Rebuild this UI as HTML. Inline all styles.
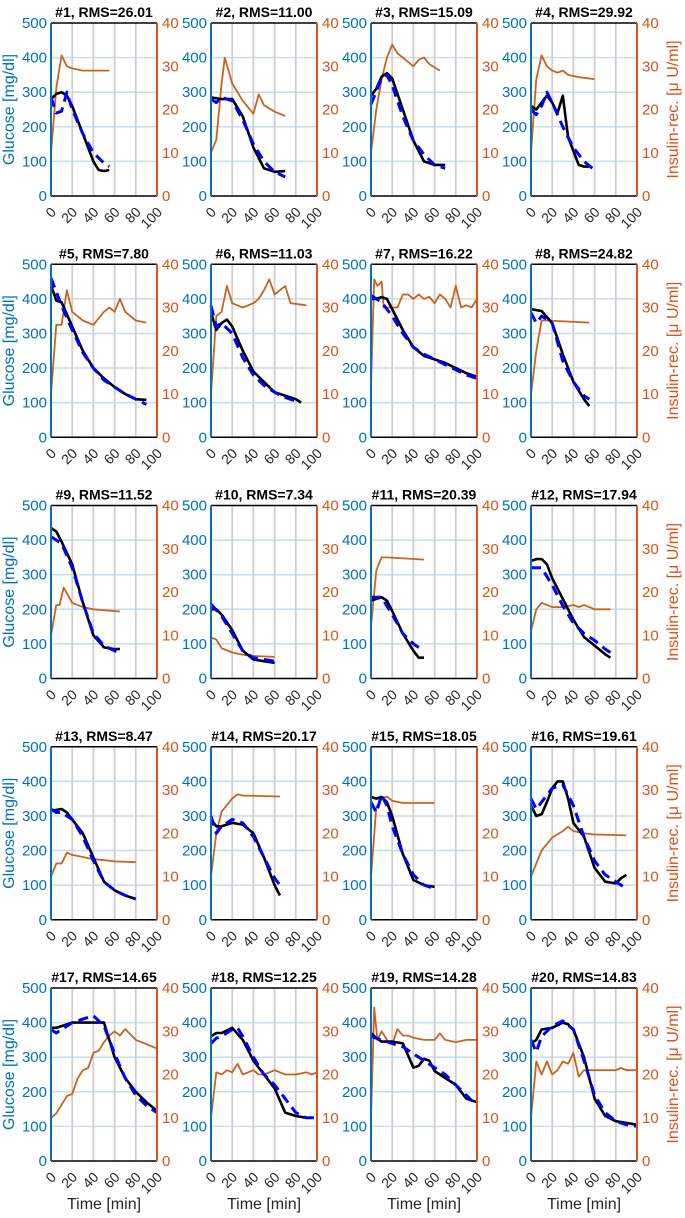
<!DOCTYPE html>
<html><head><meta charset="utf-8"><style>
body{margin:0;background:#fff}
svg{display:block;font-family:"Liberation Sans",Arial,sans-serif}
</style></head><body>
<svg id="fig" width="685" height="1218" viewBox="0 0 685 1218" xmlns="http://www.w3.org/2000/svg"></svg>
<script>
const titles=["#1, RMS=26.01","#2, RMS=11.00","#3, RMS=15.09","#4, RMS=29.92","#5, RMS=7.80","#6, RMS=11.03","#7, RMS=16.22","#8, RMS=24.82","#9, RMS=11.52","#10, RMS=7.34","#11, RMS=20.39","#12, RMS=17.94","#13, RMS=8.47","#14, RMS=20.17","#15, RMS=18.05","#16, RMS=19.61","#17, RMS=14.65","#18, RMS=12.25","#19, RMS=14.28","#20, RMS=14.83"];
const glucoseTicks=[0,100,200,300,400,500];
const insulinTicks=[0,10,20,30,40];
const timeTicks=[0,20,40,60,80,100];
const measured=[
[[0,280],[5,295],[10,300],[15,290],[20,260],[30,180],[40,100],[45,75],[50,72],[55,75]],
[[0,285],[10,280],[20,280],[30,230],[40,140],[50,80],[60,70],[70,72]],
[[0,290],[5,310],[10,345],[15,355],[20,340],[30,250],[40,160],[50,100],[60,90],[70,90]],
[[0,260],[5,250],[10,270],[15,290],[20,270],[25,240],[30,290],[35,170],[40,130],[45,90],[50,85],[55,85]],
[[0,440],[5,395],[10,390],[20,320],[30,250],[40,200],[50,170],[60,145],[70,125],[80,110],[90,108]],
[[0,360],[5,310],[10,330],[15,340],[20,320],[30,250],[40,190],[50,160],[60,130],[70,120],[80,110],[85,100]],
[[0,400],[5,400],[10,405],[15,400],[20,370],[30,310],[40,260],[50,235],[60,225],[70,215],[80,200],[90,185],[100,175]],
[[0,370],[10,365],[20,330],[30,240],[40,160],[50,110],[55,90]],
[[0,435],[5,425],[10,395],[20,330],[30,220],[40,125],[50,90],[60,85],[65,85]],
[[0,200],[5,200],[10,185],[20,140],[30,80],[40,55],[50,50],[60,45]],
[[0,225],[5,230],[10,235],[15,225],[20,195],[30,130],[40,80],[45,60],[50,60]],
[[0,340],[5,345],[10,345],[15,330],[20,290],[30,230],[40,170],[50,120],[60,95],[70,70],[75,60]],
[[0,315],[10,320],[15,310],[20,290],[30,250],[40,180],[50,110],[60,85],[70,70],[80,60]],
[[0,290],[5,270],[10,270],[20,280],[30,275],[40,250],[50,180],[60,100],[65,70]],
[[0,355],[5,350],[10,355],[15,340],[20,300],[30,190],[40,115],[50,100],[60,95]],
[[0,330],[5,300],[10,305],[15,340],[20,380],[25,400],[30,400],[35,350],[40,280],[50,240],[60,150],[70,110],[80,105],[85,120],[90,130]],
[[0,385],[5,385],[10,390],[20,400],[30,400],[40,400],[50,400],[55,350],[60,300],[70,240],[80,200],[90,170],[100,145]],
[[0,360],[5,370],[10,370],[20,385],[30,350],[40,290],[50,250],[60,210],[70,140],[80,130],[90,125]],
[[0,370],[5,355],[10,345],[20,345],[30,340],[40,270],[45,275],[50,295],[55,290],[60,260],[70,240],[80,220],[90,180],[100,170]],
[[0,340],[5,350],[10,380],[20,385],[30,400],[35,395],[40,380],[50,300],[60,180],[70,130],[80,115],[90,110],[100,105]]];
const model=[
[[0,285],[5,240],[10,245],[15,300],[20,250],[30,180],[40,125],[50,95],[55,85]],
[[0,280],[5,270],[10,285],[20,275],[30,220],[40,150],[50,100],[60,70],[70,55]],
[[0,265],[10,340],[15,350],[20,320],[30,230],[40,160],[50,120],[60,90],[70,80]],
[[0,250],[5,235],[10,260],[15,300],[20,270],[30,200],[40,140],[50,100],[60,75]],
[[0,460],[10,380],[20,310],[30,245],[40,200],[50,165],[60,145],[70,125],[80,110],[90,95]],
[[0,380],[5,320],[10,330],[20,300],[30,230],[40,180],[50,150],[60,130],[70,115],[80,105]],
[[0,410],[10,390],[20,350],[30,300],[40,260],[50,240],[60,225],[70,210],[80,195],[90,180],[100,170]],
[[0,360],[5,330],[10,350],[20,330],[30,220],[40,160],[50,120],[55,110]],
[[0,410],[10,390],[20,320],[30,220],[40,130],[50,95],[60,80],[65,75]],
[[0,215],[10,180],[20,130],[30,80],[40,60],[50,55],[60,50]],
[[0,235],[10,235],[20,185],[30,130],[40,100],[50,80]],
[[0,320],[10,320],[20,270],[30,210],[40,160],[50,130],[60,110],[70,85],[75,75]],
[[0,320],[5,310],[10,310],[20,290],[30,240],[40,170],[50,110],[60,85],[70,70],[80,60]],
[[0,300],[5,250],[10,270],[20,290],[30,280],[40,240],[50,180],[60,120],[65,100]],
[[0,340],[5,310],[10,360],[15,330],[20,270],[30,190],[40,130],[50,100],[60,90]],
[[0,350],[5,320],[10,340],[20,380],[30,390],[40,330],[50,240],[60,170],[70,130],[80,110],[90,90]],
[[0,380],[5,370],[10,380],[20,400],[30,410],[40,420],[50,390],[60,310],[70,240],[80,190],[90,160],[100,140]],
[[0,340],[5,355],[10,360],[20,380],[25,385],[30,360],[40,300],[50,250],[60,220],[70,180],[80,140],[90,125],[100,125]],
[[0,360],[10,350],[20,340],[30,330],[40,310],[50,290],[60,270],[70,250],[80,220],[90,190],[100,160]],
[[0,350],[5,315],[10,360],[20,390],[30,405],[40,380],[50,290],[60,190],[70,140],[80,115],[90,105],[100,100]]];
const insulin=[
[[0,10],[5,25],[10,32.5],[15,30],[20,29.5],[30,29],[55,29]],
[[0,10],[5,13],[10,26],[13,32],[20,26],[30,22],[40,19],[45,23.5],[50,21],[60,19.5],[70,18.5]],
[[0,10],[5,20],[10,27],[15,32],[20,35],[25,33],[30,32],[40,30],[45,31.5],[50,32],[55,30.5],[65,29]],
[[0,10],[5,27],[10,32.5],[15,30],[20,29],[25,28.5],[30,29],[35,28],[45,27.5],[60,27]],
[[0,10],[5,26],[10,26],[15,34],[20,29],[30,27],[40,26],[50,29],[55,30],[60,29],[65,32],[70,29],[80,27],[90,26.5]],
[[0,10],[5,28],[10,29],[15,35],[20,31],[30,30],[40,31],[45,32],[50,34],[55,36.5],[60,33],[70,35],[75,31],[90,30.5]],
[[0,12],[3,36.5],[6,35],[10,36],[12,30],[20,30],[25,30],[30,33],[35,33],[40,32],[45,33],[50,32],[55,32.5],[60,31],[65,33],[70,32],[75,30],[80,35],[85,30],[90,30.5],[95,30],[100,32]],
[[0,10],[5,20],[10,27],[15,27],[55,26.5]],
[[0,10],[5,17],[8,17],[12,21],[20,17.5],[30,16.5],[40,16],[65,15.5]],
[[0,9.5],[5,9],[10,7],[20,6],[30,5.5],[40,5.2],[60,5]],
[[0,12],[5,25],[10,28],[15,28],[50,27.5]],
[[0,11],[5,16],[10,17.5],[20,16.5],[30,16.5],[40,17],[45,16.5],[50,17],[55,16.5],[60,16],[75,16]],
[[0,10],[5,13],[10,13],[15,15.5],[20,15],[30,14.5],[40,14],[50,13.8],[60,13.5],[80,13.3]],
[[0,10],[5,20],[10,25],[20,28],[25,29],[30,28.7],[65,28.5]],
[[0,10],[5,26],[10,28],[15,28.5],[20,27.5],[30,27],[60,27]],
[[0,10],[5,13],[10,16],[20,19],[30,20.5],[35,21.5],[40,20.5],[50,20],[60,19.7],[90,19.5]],
[[0,10],[5,11],[10,13],[15,15],[20,15.5],[25,19],[30,21],[35,21.5],[40,25],[45,25.5],[50,27.5],[55,29],[60,30],[65,29],[70,30.5],[80,28],[90,27],[100,26]],
[[0,10],[5,20.5],[10,20],[15,21],[20,20.5],[25,22.5],[30,20],[35,20.5],[40,21],[45,20],[50,20],[60,21],[70,20],[80,20],[90,20.5],[95,20],[100,20.5]],
[[0,10],[3,35.5],[6,28],[10,30],[15,28],[20,27],[25,30.5],[30,29],[35,29],[40,28.5],[50,28],[60,28],[65,29.5],[70,28],[80,27.5],[90,28],[100,28]],
[[0,10],[5,23],[10,20],[15,23],[20,20],[25,21],[30,23],[35,22.5],[40,25],[45,19.5],[50,21],[60,21],[70,21],[80,21],[85,21.5],[90,21],[100,21]]];

const NS="http://www.w3.org/2000/svg";
const svg=document.getElementById('fig');
function mk(tag,attrs,parent,text){const e=document.createElementNS(NS,tag);for(const k in attrs)e.setAttribute(k,attrs[k]);if(text!==undefined)e.textContent=text;(parent||svg).appendChild(e);return e;}
const W=106,H=173,X0=51,DX=160,Y0=23,DY=241.25;
const BLUE="#0072BD",ORANGE="#D95319";
for(let p=0;p<20;p++){
  const r=Math.floor(p/4),c=p%4;
  const L=X0+DX*c,T=Y0+DY*r;
  const xs=t=>L+W*t/100, yg=g=>T+H*(1-g/500), yi=v=>T+H*(1-v/40);
  const g=mk('g',{});
  
  
  glucoseTicks.forEach(v=>{if(v>0&&v<500){const l=mk('line',{x1:L,x2:L+W,y1:yg(v),y2:yg(v),stroke:"#c9dcea","stroke-width":1.5},g);}});
  timeTicks.forEach(v=>{if(v>0&&v<100){const l=mk('line',{x1:xs(v),x2:xs(v),y1:T,y2:T+H,stroke:"#cfcfcf","stroke-width":1.8},g);}});
  const path=(arr,f)=>arr.map((d,i)=>(i?'L':'M')+xs(d[0]).toFixed(1)+','+f(d[1]).toFixed(1)).join('');
  const oi=mk('path',{d:path(insulin[p],yi),fill:"none",stroke:"#C8641E","stroke-width":1.8,"stroke-linejoin":"round"},g);
  
  const bm=mk('path',{d:path(measured[p],yg),fill:"none",stroke:"#000","stroke-width":2.6,"stroke-linejoin":"round"},g);
  
  const bl=mk('path',{d:path(model[p],yg),fill:"none",stroke:"#0000FF","stroke-width":3,"stroke-dasharray":"10,6","stroke-linejoin":"round"},g);
  
  mk('line',{x1:L,x2:L+W,y1:T,y2:T,stroke:"#000","stroke-width":1.5},g);
  mk('line',{x1:L,x2:L+W,y1:T+H,y2:T+H,stroke:"#000","stroke-width":1.5},g);
  const la=mk('line',{x1:L,x2:L,y1:T,y2:T+H,stroke:BLUE,"stroke-width":2},g);
  
  const ra=mk('line',{x1:L+W,x2:L+W,y1:T,y2:T+H,stroke:ORANGE,"stroke-width":2},g);
  
  glucoseTicks.forEach(v=>{const t=mk('text',{x:L-4,y:yg(v)+5,"text-anchor":"end","font-size":15,fill:BLUE},g,String(v));});
  insulinTicks.forEach(v=>{const t=mk('text',{x:L+W+5,y:yi(v)+5,"font-size":15,fill:ORANGE},g,String(v));});
  timeTicks.forEach(v=>{const x=xs(v)+6,y=T+H+17;const t=mk('text',{x:x,y:y,"text-anchor":"end","font-size":14,fill:"#262626",transform:`rotate(-45 ${x} ${y})`},g,String(v));});
  const tt=mk('text',{x:L+W/2,y:T-6,"text-anchor":"middle","font-size":14,"font-weight":"bold",fill:"#000"},g,titles[p]);
  
  if(c===0){const yl=mk('text',{x:14,y:T+H/2,"text-anchor":"middle","font-size":16,fill:BLUE,transform:`rotate(-90 14 ${T+H/2})`},g,"Glucose [mg/dl]");}
  if(c===3){const yl=mk('text',{x:678,y:T+H/2,"text-anchor":"middle","font-size":16,fill:ORANGE,transform:`rotate(-90 678 ${T+H/2})`},g,"Insulin-rec. [\u03BC U/ml]");}
  if(r===4){const xl=mk('text',{x:L+W/2,y:1209,"text-anchor":"middle","font-size":16,fill:"#262626"},g,"Time [min]");}
}
</script>
</body></html>
